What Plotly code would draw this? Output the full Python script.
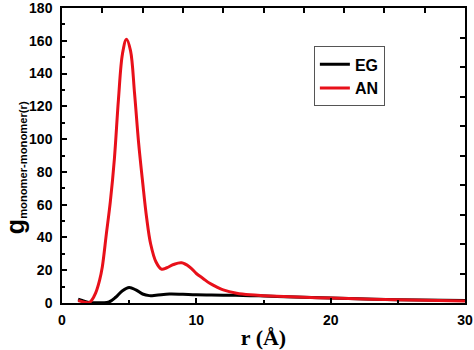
import plotly.graph_objects as go

# Data
r_an = [1.2, 1.5, 1.8, 2.0, 2.2, 2.5, 2.8, 3.0, 3.3, 3.6, 3.9, 4.2, 4.5, 4.8, 5.1, 5.4,
        5.7, 6.0, 6.3, 6.6, 7.0, 7.4, 7.8, 8.3, 8.9, 9.5, 10.0, 10.5, 11.0, 11.5, 12.0,
        13.0, 14.0, 15.0, 17.0, 20.0, 23.0, 26.0, 30.0]
g_an = [1.5, 0.8, 0.3, 0.2, 1.5, 6, 14, 22, 42, 62, 88, 124, 152, 161, 154, 128,
        98, 74, 52, 36, 25, 20.7, 21.5, 23.5, 24.5, 22, 18, 15, 12, 9.8, 8,
        6, 5, 4.5, 3.8, 3.0, 2.3, 1.8, 1.2]

r_eg = [1.2, 1.5, 2.0, 2.5, 3.0, 3.5, 4.0, 4.5, 5.0, 5.5, 6.0, 6.5, 7.0, 8.0, 9.0,
        10.0, 12.0, 14.0, 16.0, 20.0, 25.0, 30.0]
g_eg = [2.4, 1.5, 0.3, 0.2, 0.2, 0.6, 3.5, 7.5, 9.5, 8.0, 5.5, 4.5, 4.7, 5.5, 5.3,
        5.0, 4.8, 4.5, 4.0, 3.0, 2.0, 1.5]

series_names = ["EG", "AN"]

x_ticks = [0, 10, 20, 30]
y_ticks = [0, 20, 40, 60, 80, 100, 120, 140, 160, 180]

fig = go.Figure()
fig.add_trace(go.Scatter(x=r_eg, y=g_eg, mode="lines", name=series_names[0],
                         line=dict(color="black", width=3, shape="spline")))
fig.add_trace(go.Scatter(x=r_an, y=g_an, mode="lines", name=series_names[1],
                         line=dict(color="#e8101a", width=3, shape="spline")))
# dummy trace for top/right axes
fig.add_trace(go.Scatter(x=[None], y=[None], xaxis="x2", yaxis="y2",
                         showlegend=False, hoverinfo="skip"))

tickfont = dict(family="Liberation Sans, Arial", size=14, color="black", weight="bold")

fig.update_layout(
    width=474, height=350,
    margin=dict(l=62, r=9, t=8, b=47),
    paper_bgcolor="white", plot_bgcolor="white",
    showlegend=True,
    legend=dict(x=0.625, y=0.87, xanchor="left", yanchor="top",
                bordercolor="#555555", borderwidth=1, bgcolor="white",
                font=dict(family="Liberation Sans, Arial", size=16, color="black", weight="bold"),
                itemwidth=30, tracegroupgap=0),
    xaxis=dict(range=[0, 30], tickvals=x_ticks, ticks="inside", ticklen=5, tickwidth=1.5,
               tickcolor="black", showline=True, linecolor="black", linewidth=1.5,
               showgrid=False, zeroline=False, tickfont=tickfont, ticklabelstandoff=3,
               automargin=False, ticklabeloverflow="allow",
               minor=dict(dtick=5, ticks="inside", ticklen=3, tickcolor="black", showgrid=False),
               title=dict(text="r (Å)", standoff=4,
                          font=dict(family="Liberation Serif, Times New Roman", size=22,
                                    color="black", weight="bold"))),
    yaxis=dict(range=[0, 180], tickvals=y_ticks, ticks="inside", ticklen=5, tickwidth=1.5,
               tickcolor="black", showline=True, linecolor="black", linewidth=1.5,
               showgrid=False, zeroline=False, tickfont=tickfont, ticklabelstandoff=5,
               automargin=False, ticklabeloverflow="allow",
               minor=dict(dtick=10, ticks="inside", ticklen=3, tickcolor="black", showgrid=False)),
    xaxis2=dict(range=[0, 30], overlaying="x", side="top", dtick=3, tick0=0,
                ticks="inside", ticklen=5, tickwidth=1.5, tickcolor="black",
                showticklabels=False, showline=True, linecolor="black", linewidth=1.5,
                showgrid=False, zeroline=False),
    yaxis2=dict(range=[0, 180], overlaying="y", side="right", dtick=18, tick0=0,
                ticks="inside", ticklen=5, tickwidth=1.5, tickcolor="black",
                showticklabels=False, showline=True, linecolor="black", linewidth=1.5,
                showgrid=False, zeroline=False),
)

fig.add_annotation(
    text="<span style='font-size:25px'>g</span><sub>monomer-monomer(r)</sub>",
    xref="paper", yref="paper", x=-0.117, y=0.46, xanchor="center", yanchor="middle",
    textangle=-90, showarrow=False,
    font=dict(family="Liberation Sans, Arial", size=16, color="black", weight="bold"))

fig.write_html("out.html")
